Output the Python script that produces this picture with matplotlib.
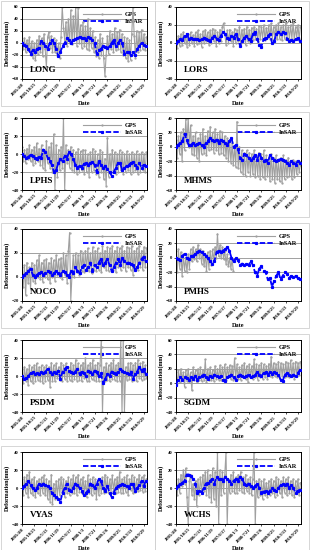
import matplotlib.pyplot as plt
from matplotlib.patches import Rectangle
import pandas as pd

# データ (GPS: 20日毎, InSAR: 35日毎, 2005/4/8 から)
stations = ['LONG', 'LORS', 'LPHS', 'MHMS', 'NOCO', 'PMHS', 'PSDM', 'SGDM', 'VYAS', 'WCHS']
ylims = [(-60, 60), (-40, 40), (-40, 40), (-60, 40), (-20, 40),
         (-60, 40), (-40, 40), (-40, 60), (-40, 40), (-40, 40)]

gps_long = [2, -10, 8, -15, 5, -12, 10, -20, 3, -25,
            0, -28, 5, -18, 12, -15, 8, -22, 15, -10,
            -40, 10, 18, -8, 12, -15, 8, -15, 5, -20,
            0, -25, 10, 60, 25, 5, 35, -5, 40, 0,
            55, -2, 45, 5, 60, -5, 58, 0, 30, -8,
            35, -5, 28, -10, 40, -12, 25, -8, 20, -15,
            10, -22, 5, -25, 15, -20, 8, -25, -55, -20,
            12, -18, 20, -10, 15, -15, 25, -12, 18, -10,
            22, -15, 15, -20, 10, -25, 8, -30, 5, -28,
            15, 60, 12, -25, 20, -15, 18, -12, 22, -10,
            15, -12, 10]
insar_long = [0, -3, -5, -10, -18, -12, -15, -10, -8, 3,
              0, -5, -10, 0, 5, 0, -10, -22, -15, -5,
              0, 8, 5, 0, 5, 6, 8, 10, 9, 8,
              5, 10, 8, 5, 0, -18, -12, -10, -5, -6,
              -8, -5, 0, 5, -5, 0, 5, 0, -18, -15,
              -15, -20, -15, -20, -10, -5, 0, -3, -5]

gps_lors = [5, -5, 8, -3, 10, -2, 12, 0, 8, -4,
            10, -2, 12, 0, 9, -3, 12, -1, 14, 0,
            10, -4, 13, 0, 15, 2, 12, -2, 14, 0,
            16, 2, 14, -3, 12, 0, 15, 2, 18, 22,
            10, -2, 14, 0, 15, 2, 12, -3, 16, 0,
            14, 2, 18, 0, 15, 3, 16, -2, 18, 2,
            15, 0, 17, 3, 18, 5, 16, 2, 19, 4,
            18, 5, 20, 3, 17, 6, 20, 5, 22, 4,
            18, 6, 20, 4, 22, 5, 18, 3, 20, 5,
            22, 6, 18, 4, 20, 5, 22, 3, 18, 6,
            20, 4, 18]
insar_lors = [0, 2, 4, 3, 8, 10, 5, 6, 4, 5,
              5, 3, 4, 6, 5, 3, 2, 6, 8, 5,
              3, 8, 12, 10, 6, 4, 8, 6, 10, 5,
              -3, 2, 6, 8, 4, 2, 10, 12, 5, -2,
              -4, 4, 6, 8, 10, 0, 2, 10, 12, 10,
              12, 11, 5, 2, 3, 2, 4, 6, 2]

gps_lphs = [8, -8, 5, -10, 6, -6, 10, -8, 5, -12,
            8, -10, 12, -8, 6, -12, 10, -15, 5, -18,
            15, -10, 8, -15, 12, -20, 22, -40, 10, -25,
            5, -18, 8, -15, 40, -40, 10, -10, 5, -15,
            8, -18, 5, -20, 2, -22, 6, -20, 3, -18,
            5, -22, 4, -20, 0, -25, 2, -20, 6, -18,
            3, -22, 0, -25, 5, -20, 2, -28, -5, -35,
            18, -25, 0, -20, 5, -18, 2, -22, 0, -20,
            4, -18, 2, -22, 0, -20, 3, -18, 0, -22,
            2, -20, 0, -18, 3, -22, 0, -20, 2, -18,
            0, -20, 2]
insar_lphs = [0, -2, -4, -3, -1, -2, -4, -5, -3, -4,
              5, 2, -4, -8, -12, -20, -18, -10, -6, -8,
              -2, -5, 2, 0, -5, -12, -15, -13, -15, -11,
              -10, -12, -10, -9, -12, -20, -8, -12, -15, -13,
              -17, -20, -24, -20, -15, -10, -10, -18, -16, -13,
              -12, -10, -9, -12, -15, -10, -15, -12, -13]

gps_mhms = [10, -15, 15, -10, 20, -20, 25, -5, 38, 5,
            40, 0, 30, -10, 15, -12, 20, -15, 12, -20,
            18, -10, 25, -8, 15, -12, 22, -5, 28, -3,
            20, -8, 25, -5, 18, -10, 22, -8, 20, -12,
            15, -15, 12, -20, 10, -22, 5, -25, 2, -28,
            35, -30, 0, -35, -5, -38, -8, -40, -5, -35,
            -8, -40, -10, -38, -5, -42, -12, -40, -8, -45,
            -10, -42, -5, -45, -12, -40, -15, -48, -10, -45,
            -15, -50, -12, -45, -18, -48, -15, -50, -12, -45,
            -18, -42, -15, -40, -20, -45, -18, -42, -20, -38,
            -22, -35, -25]
insar_mhms = [0, 3, 5, 8, 18, 10, 2, 3, 5, 2,
              4, 5, 2, 0, 5, 8, 12, 10, 8, 10,
              5, 10, 8, 5, 2, 8, 12, 0, 2, -3,
              -15, -18, -10, -12, -15, -18, -15, -12, -18, -10,
              -15, -20, -18, -22, -12, -15, -18, -20, -18, -17,
              -18, -20, -22, -25, -20, -22, -25, -20, -22]

gps_noco = [8, -8, 10, -15, 12, -5, 8, -10, 12, -3,
            10, -5, 14, 0, 18, -2, 12, -4, 14, 0,
            15, -2, 12, -5, 16, 0, 14, -3, 18, 2,
            15, 0, 16, -2, 20, 2, 18, -5, 22, 37,
            -20, 2, 18, 0, 20, 4, 18, 2, 22, 5,
            20, 4, 22, 6, 24, 5, 20, 3, 25, 6,
            22, 5, 24, 6, 20, 4, 26, 8, 22, 6,
            25, 5, 24, 8, 26, 6, 22, 4, 25, 8,
            24, 6, 26, 8, 22, 5, 25, 8, 24, 6,
            26, 2, 22, 8, 24, 6, 26, 8, 22, 6,
            25, 8, 24]
insar_noco = [0, 2, 3, 5, 7, 2, 0, 2, 3, 4,
              2, 3, 5, 4, 2, 3, 5, 3, 2, 5,
              4, 2, 0, 5, 3, 8, 5, 3, 8, 10,
              6, 8, 12, 5, 10, 8, 12, 15, 10, 12,
              15, 10, 5, 8, 12, 15, 10, 16, 13, 12,
              12, 11, 10, 6, 8, 12, 15, 17, 13]

gps_pmhs = [10, -20, 12, -15, 8, -25, 5, -18, 0, -20,
            5, -15, 12, -5, 15, -2, 12, -5, 18, 0,
            12, -8, 10, -12, 5, -18, 8, -15, 10, -10,
            12, -5, 15, 0, 33, 2, 18, 0, 15, -2,
            10, -8, 5, -12, 0, -15, -2, -18]
insar_pmhs = [0, -2, -3, 3, 5, 0, -2, 2, 3, 5,
              8, 10, 8, 5, 3, 0, -5, -8, -5, 8,
              10, 8, 10, 12, 15, 10, 0, -5, 0, -3,
              -10, -8, -10, -8, -10, -5, -10, -20, -25, -15,
              -12, -18, -20, -30, -28, -40, -32, -25, -20, -30,
              -25, -20, -22, -28, -25, -27, -25, -28, -30]

gps_psdm = [8, -8, 10, -5, 8, -10, 12, -6, 10, -8,
            12, -5, 14, -4, 10, -6, 12, -8, 10, -5,
            12, -4, 10, -12, 15, -5, 12, -6, 14, -2,
            10, -4, 15, -6, 12, -3, 14, -5, 10, -4,
            15, -6, 12, -3, 18, -5, 14, -4, 12, -6,
            15, -2, 20, -5, 12, -6, 15, -3, 18, -4,
            12, -5, 15, -6, 12, 40, -40, 10, -5, 14,
            -4, 12, -6, 15, -3, 18, -4, 12, -5, 15,
            -5, 40, -40, 40, -40, 10, -4, 14, -3, 15,
            -5, 12, -4, 15, -6, 18, -2, 14, -4, 16,
            -3, 12, -2]
insar_psdm = [0, -3, -2, 0, 3, 5, 2, 3, 2, 4,
              3, 5, 8, 5, 2, 4, 3, 6, -3, 5,
              8, 10, 6, 4, 3, 5, 8, 2, 5, 3,
              0, 6, 4, 2, 6, 4, 0, 3, -8, -3,
              2, 0, 5, 3, 2, 5, 8, 6, 5, 3,
              2, 5, -3, 2, 5, 10, 6, 8, 2]

gps_sgdm = [15, 0, 18, 2, 20, 5, 15, -5, 18, 3,
            20, 2, 15, -10, 22, 4, 18, 2, 20, 5,
            22, 3, 18, 5, 33, 2, 20, 4, 22, 5,
            18, 3, 24, 6, 20, 5, 25, 4, 22, 6,
            26, 5, 22, 8, 25, 6, 24, 5, 35, 8,
            26, 6, 22, 5, 25, 8, 28, 6, 24, 2,
            26, 8, 24, 6, 33, 8, 26, 5, 25, 8,
            28, 6, 26, 8, 24, 6, 27, 10, 37, 8,
            28, 10, 26, 8, 30, 6, 28, 10, 26, 8,
            30, 10, 28, 8, 32, 10, 28, 6, 30, 10,
            28, 12, 30]
insar_sgdm = [-2, 5, 8, 5, 8, 7, 5, 8, 6, 10,
              5, 8, 10, 12, 8, 6, 10, 8, 12, 10,
              8, 10, 5, 3, 8, 10, 12, 8, 5, 10,
              12, 10, 8, 10, 12, 8, 10, 12, 15, 12,
              10, 14, 15, 12, 15, 13, 15, 14, 12, 5,
              3, 12, 14, 12, 10, 12, 10, 14, 18]

gps_vyas = [10, -8, 12, -5, 15, -10, 18, -6, 10, -8,
            12, -10, 8, -6, 10, -8, 12, -5, 14, -8,
            10, -12, 8, -15, 15, -18, 5, -12, 8, -10,
            10, -8, 12, -5, 10, -10, 8, -6, 12, -8,
            10, -5, 14, -6, 12, -8, 15, -4, 10, -6,
            12, -5, 8, -10, 14, -6, 10, -8, 12, -5,
            10, -12, 8, -8, 10, -6, 12, -5, 15, -4,
            12, -6, 10, -5, 14, -3, 10, -6, 12, -4,
            18, -5, 10, -6, 12, -4, 14, -8, 10, -2,
            14, -6, 12, -4, 10, -3, 15, -2, 12, -4,
            14, -3, 10]
insar_vyas = [0, 2, 5, 8, 3, 0, -2, 0, 5, 3,
              5, 3, 2, 0, -5, -8, -10, -12, -15, -5,
              0, 5, -2, -3, 0, 5, 3, 0, -3, -8,
              -5, -3, 5, 3, 0, 5, 10, 8, 0, -3,
              2, -5, -10, -5, 0, 2, 3, 5, 3, 2,
              0, 4, 5, -3, 0, 3, 8, 2, 8]

gps_wchs = [5, -8, 10, -5, 15, 2, 20, 5, 22, -10,
            -40, 8, 15, -8, 5, -12, 8, -20, 10, -8,
            12, -5, 15, -3, 18, -8, 20, -10, 15, -15,
            22, -12, 18, -20, 40, -40, 20, -8, 18, -5,
            15, 40, -40, 10, -5, 15, -3, 18, -6, 12,
            -5, 15, -2, 18, -4, 12, -6, 15, -3, 10,
            -5, 12, -8, 10, 40, -40, 8, -10, 10, -8,
            8, -12, 10, -8, 6, -10, 8, -8, 10, -6,
            8, -10, 12, -8, 10, -6, 8, -10, 12, -5,
            10, -8, 12, -6, 8, -8, 10, -10, 8, -6,
            10, -8, 6]
insar_wchs = [0, 2, 5, 6, 8, 15, 15, 13, 10, 5,
              -5, -3, -5, 0, 5, 6, 8, 10, 5, 12,
              10, 10, 8, 12, 10, 8, 5, 8, 10, 8,
              12, 10, 5, 3, 5, 2, 0, 2, 5, 0,
              -5, -4, -3, -5, -3, 0, -2, -3, 0, 3,
              5, 3, 5, 0, 3, 0, -5, -3, -2]

gps_series = [gps_long, gps_lors, gps_lphs, gps_mhms, gps_noco,
              gps_pmhs, gps_psdm, gps_sgdm, gps_vyas, gps_wchs]
insar_series = [insar_long, insar_lors, insar_lphs, insar_mhms, insar_noco,
                insar_pmhs, insar_psdm, insar_sgdm, insar_vyas, insar_wchs]

start = pd.Timestamp('2005-04-08')
xticks = pd.date_range(start, periods=11, freq='200D')
xtick_labels = [f'{d.year}/{d.month}/{d.day}' for d in xticks]

# フォント
plt.rcParams['font.family'] = ['Liberation Serif', 'DejaVu Serif']
plt.rcParams['font.weight'] = 'bold'

W, H = 315, 550
fig = plt.figure(figsize=(W / 100, H / 100), dpi=100)

col_left = [22, 176]
row_top = [7, 118, 229, 340, 452]
ax_w, ax_h = 125, 72

for k, name in enumerate(stations):
    row, col = divmod(k, 2)
    x0, top = col_left[col], row_top[row]

    # 各パネルの薄い枠
    fig.add_artist(Rectangle(((x0 - 21) / W, 1 - (top + ax_h + 27) / H),
                             154 / W, (ax_h + 33) / H, transform=fig.transFigure,
                             fill=False, ec='#d0d0d0', lw=0.6))

    ax = fig.add_axes([x0 / W, 1 - (top + ax_h) / H, ax_w / W, ax_h / H])
    gps = gps_series[k]
    insar = insar_series[k]
    gps_x = pd.date_range(start, periods=len(gps), freq='20D')
    insar_x = pd.date_range(start, periods=len(insar), freq='35D')

    ax.plot(gps_x, gps, color='#a0a0a0', lw=0.8, marker='.', ms=1.3,
            label='GPS', zorder=2)
    ax.plot(insar_x, insar, color='#0000ff', lw=1.3, ls='--', dashes=(3, 1.2),
            marker='s', ms=1.3, label='InSAR', zorder=3)

    lo, hi = ylims[k]
    ax.set_ylim(lo, hi)
    ax.set_yticks(range(lo, hi + 1, 20))
    ax.set_xlim(start, start + pd.Timedelta(days=2050))
    ax.set_xticks(xticks)
    ax.set_xticklabels(xtick_labels, rotation=45, ha='right', rotation_mode='anchor')
    ax.yaxis.grid(True, color='#a0a0a0', lw=0.7)
    ax.set_axisbelow(True)
    ax.tick_params(labelsize=3.3, length=1.5, width=0.5, pad=1)
    for s in ax.spines.values():
        s.set_linewidth(0.7)

    ax.set_ylabel('Deformation(mm)', fontsize=4.3, fontweight='bold', labelpad=1)
    ax.set_xlabel('Date', fontsize=4.5, fontweight='bold', labelpad=0.5)
    ax.text(0.06, 0.1, name, transform=ax.transAxes, fontsize=6.5, fontweight='bold')

    leg = ax.legend(loc='upper right', frameon=False, fontsize=4.5, handlelength=6,
                    borderaxespad=0.3, labelspacing=0.3, handletextpad=0.6)
    leg.set_zorder(1.5)

fig.savefig('out.png', dpi=100)
